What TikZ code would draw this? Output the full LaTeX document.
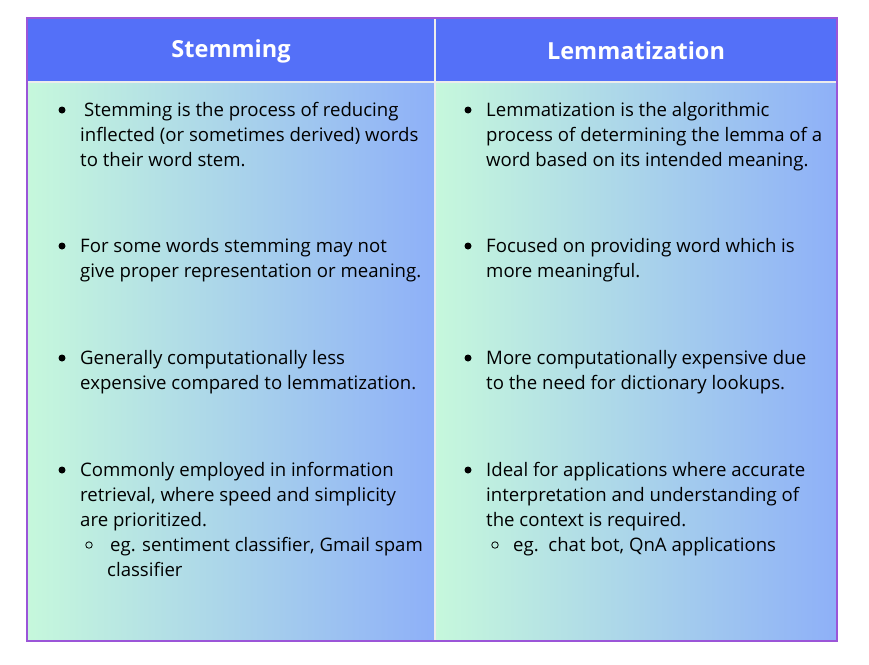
\documentclass[tikz,border=0pt]{standalone}
\usepackage{fontspec}
\setmainfont{Open Sans}
\definecolor{hdr}{HTML}{5470F8}
\definecolor{gl}{HTML}{C6F8DC}
\definecolor{gr}{HTML}{8EB0F8}
\definecolor{brd}{HTML}{9B55D8}
\tikzset{
 hd/.style={font=\bfseries\fontsize{23.5}{28}\selectfont, text=white},
 tx/.style={font=\fontsize{18.6}{22}\selectfont, anchor=base west, inner sep=0pt},
 bl/.style={circle, fill=black, inner sep=0pt, minimum size=7pt},
 sbl/.style={circle, draw=black, line width=0.8pt, inner sep=0pt, minimum size=6.5pt},
 cell/.style={left color=gl, right color=gr, draw=none}
}
\begin{document}
\begin{tikzpicture}[x=1pt,y=-1pt]
\useasboundingbox (0,0) rectangle (869,664);
\fill[white] (0,0) rectangle (869,664);
\fill[hdr] (27,18) rectangle (837,82);
\shade[cell] (27,82) rectangle (435,641);
\shade[cell] (435,82) rectangle (837,641);
\draw[white!85!gray, line width=1.5pt] (27,82) -- (837,82) (435,18) -- (435,641);
\draw[brd, line width=2pt] (27,18) rectangle (837,641);
\node[hd] (h1) at (231,51) {Stemming};
\node[hd] (h2) at (636,51) {Lemmatization};
% left column
\node[bl] (b1) at (62,110) {};
\node[tx] (l1a) at (84,116) {Stemming is the process of reducing};
\node[tx] (l1b) at (80,141) {inflected (or sometimes derived) words};
\node[tx] (l1c) at (80,166) {to their word stem.};
\node[bl] (b2) at (62,246) {};
\node[tx] (l2a) at (80,252) {For some words stemming may not};
\node[tx] (l2b) at (80,277) {give proper representation or meaning.};
\node[bl] (b3) at (62,358) {};
\node[tx] (l3a) at (80,364) {Generally computationally less};
\node[tx] (l3b) at (80,389) {expensive compared to lemmatization.};
\node[bl] (b4) at (62,470) {};
\node[tx] (l4a) at (80,476) {Commonly employed in information};
\node[tx] (l4b) at (80,501) {retrieval, where speed and simplicity};
\node[tx] (l4c) at (80,526) {are prioritized.};
\node[sbl] (s1) at (89,545) {};
\node[tx] (l5a) at (110,551) {eg. sentiment classifier, Gmail spam};
\node[tx] (l5b) at (107,576) {classifier};
% right column
\node[bl] (c1) at (468,110) {};
\node[tx] (r1a) at (486,116) {Lemmatization is the algorithmic};
\node[tx] (r1b) at (486,141) {process of determining the lemma of a};
\node[tx] (r1c) at (486,166) {word based on its intended meaning.};
\node[bl] (c2) at (468,246) {};
\node[tx] (r2a) at (486,252) {Focused on providing word which is};
\node[tx] (r2b) at (486,277) {more meaningful.};
\node[bl] (c3) at (468,358) {};
\node[tx] (r3a) at (486,364) {More computationally expensive due};
\node[tx] (r3b) at (486,389) {to the need for dictionary lookups.};
\node[bl] (c4) at (468,470) {};
\node[tx] (r4a) at (486,476) {Ideal for applications where accurate};
\node[tx] (r4b) at (486,501) {interpretation and understanding of};
\node[tx] (r4c) at (486,526) {the context is required.};
\node[sbl] (s2) at (495,545) {};
\node[tx] (r5a) at (513,551) {eg.\ \ chat bot, QnA applications};
\end{tikzpicture}
\end{document}
